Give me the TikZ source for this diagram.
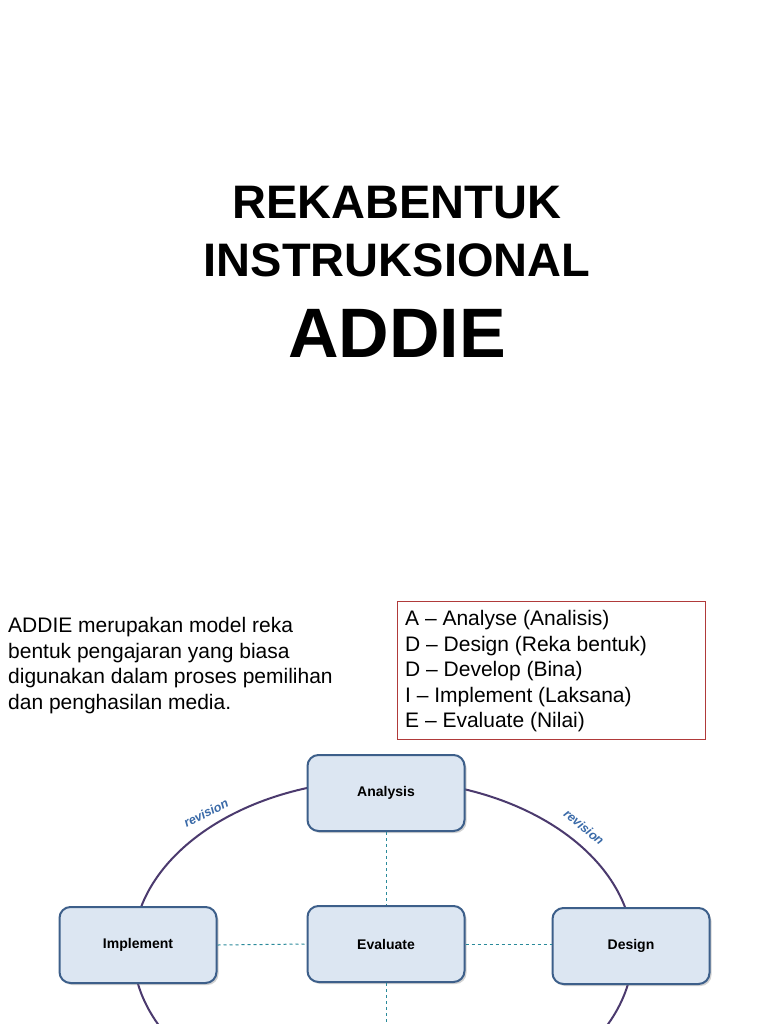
\documentclass[tikz,border=0pt]{standalone}
\usepackage{fontspec}
\setmainfont{Liberation Sans}
\usetikzlibrary{shadows}
\definecolor{boxfill}{HTML}{DCE6F2}
\definecolor{boxdraw}{HTML}{3D5F8A}
\definecolor{ringcol}{HTML}{4B3A6E}
\definecolor{dashcol}{HTML}{2A8A9A}
\definecolor{revcol}{HTML}{3A6AA8}
\definecolor{listcol}{HTML}{B03A3A}
\begin{document}
\begin{tikzpicture}[x=1pt,y=-1pt,
  phase/.style={draw=boxdraw,fill=boxfill,line width=2pt,rounded corners=11pt,
    minimum width=157pt,minimum height=76pt,font=\fontsize{14}{16}\selectfont\bfseries,
    drop shadow={shadow xshift=2pt,shadow yshift=-2pt,opacity=0.35}},
  link/.style={draw=dashcol,dashed,line width=1pt},
  rev/.style={text=revcol,font=\fontsize{12.5}{14}\selectfont\itshape\bfseries},
  body/.style={anchor=base west,inner sep=0pt,font=\fontsize{21}{24}\selectfont}]
\useasboundingbox (0,0) rectangle (768,1024);
\fill[white] (0,0) rectangle (768,1024);
\node[font=\fontsize{47}{52}\selectfont\bfseries] (t1) at (397,203) {REKABENTUK};
\node[font=\fontsize{47}{52}\selectfont\bfseries] (t2) at (397,260) {INSTRUKSIONAL};
\node[font=\fontsize{70}{76}\selectfont\bfseries] (t3) at (397,333) {ADDIE};
\node[body] (p1) at (8,632) {ADDIE merupakan model reka};
\node[body] (p2) at (8,658) {bentuk pengajaran yang biasa};
\node[body] (p3) at (8,683) {digunakan dalam proses pemilihan};
\node[body] (p4) at (8,709) {dan penghasilan media.};
\draw[listcol,line width=0.8pt] (397,601) rectangle (705,739);
\node[body] (l1) at (405,625) {A – Analyse (Analisis)};
\node[body] (l2) at (405,651) {D – Design (Reka bentuk)};
\node[body] (l3) at (405,676) {D – Develop (Bina)};
\node[body] (l4) at (405,702) {I – Implement (Laksana)};
\node[body] (l5) at (405,727) {E – Evaluate (Nilai)};
\draw[ringcol,line width=2pt] (383,950) ellipse [x radius=250, y radius=170];
\coordinate (bot) at (386,1024);
\node[phase] (an) at (386,793) {Analysis};
\node[phase] (im) at (138,945) {Implement};
\node[phase] (ev) at (386,944) {Evaluate};
\node[phase] (de) at (631,946) {Design};
\draw[link] (an.south) -- (ev.north);
\draw[link] (im.east) -- (ev.west);
\draw[link] (ev.east) -- (de.west |- ev.east);
\draw[link] (ev.south) -- (bot);
\node[rev,rotate=27] (r1) at (206,813) {revision};
\node[rev,rotate=-40] (r2) at (584,827) {revision};
\end{tikzpicture}
\end{document}
